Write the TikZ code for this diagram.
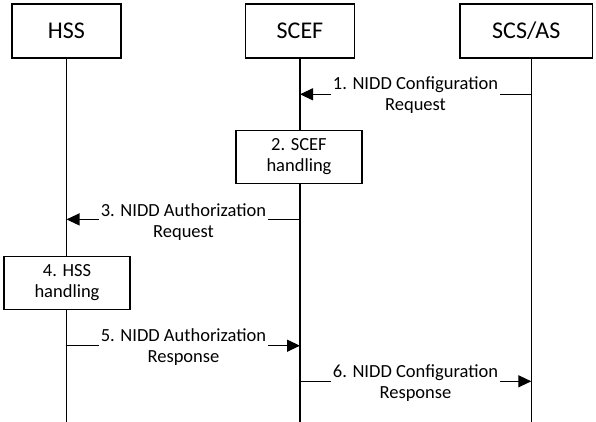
\documentclass[tikz,border=0pt]{standalone}
\usepackage{fontspec}
\setmainfont{Carlito}
\usetikzlibrary{arrows.meta}

\begin{document}
\begin{tikzpicture}[x=1pt,y=-1pt,line width=1.2pt,
        entity/.style={draw,fill=white,minimum height=54pt,inner sep=0pt,font=\fontsize{24}{28}\selectfont},
        handling/.style={draw,fill=white,minimum width=126pt,minimum height=52.6pt,inner sep=0pt,align=center,font=\fontsize{18.5}{21}\selectfont},
        msg/.style={anchor=base,inner xsep=1.5pt,inner ysep=0pt,font=\fontsize{18.5}{21}\selectfont},
        sends/.style={-{Triangle[length=13pt,width=12pt]}}]
        \useasboundingbox (0,0) rectangle (596,421);
        \node[entity,minimum width=109pt] (hss) at (66.5,31) {HSS};
        \node[entity,minimum width=108.6pt] (scef) at (300,31) {SCEF};
        \node[entity,minimum width=132.7pt] (scs) at (526.3,31) {SCS/AS};
        \coordinate (hssL) at (hss.south);
        \coordinate (scefL) at (scef.south);
        \coordinate (scsL) at ([xshift=5pt]scs.south);
        \draw (hssL) -- ++(0,363);
        \draw (scefL) -- ++(0,363);
        \draw (scsL) -- ++(0,363);
        \node[handling] (scefh) at (299,157) {2. SCEF\\handling};
        \node[handling] (hssh) at (67,283) {4. HSS\\handling};
        \coordinate (y1) at (0,94.3);
        \coordinate (y3) at (0,219.4);
        \coordinate (y5) at (0,345.7);
        \coordinate (y6) at (0,381.3);
        \node[msg] (m1) at (415.5,89.5) {1. NIDD Configuration};
        \node[msg] (m1b) at (415.5,110.5) {Request};
        \draw (scsL |- y1) -- (m1.east |- y1);
        \draw[sends] (m1.west |- y1) -- (scefL |- y1);
        \node[msg] (m3) at (183.5,216) {3. NIDD Authorization};
        \node[msg] (m3b) at (183.5,237) {Request};
        \draw (scefL |- y3) -- (m3.east |- y3);
        \draw[sends] (m3.west |- y3) -- (hssL |- y3);
        \node[msg] (m5) at (183.5,341.7) {5. NIDD Authorization};
        \node[msg] (m5b) at (183.5,362.5) {Response};
        \draw (hssL |- y5) -- (m5.west |- y5);
        \draw[sends] (m5.east |- y5) -- (scefL |- y5);
        \node[msg] (m6) at (415.5,377.7) {6. NIDD Configuration};
        \node[msg] (m6b) at (415.5,398.5) {Response};
        \draw (scefL |- y6) -- (m6.west |- y6);
        \draw[sends] (m6.east |- y6) -- (scsL |- y6);
    \end{tikzpicture}
\end{document}
